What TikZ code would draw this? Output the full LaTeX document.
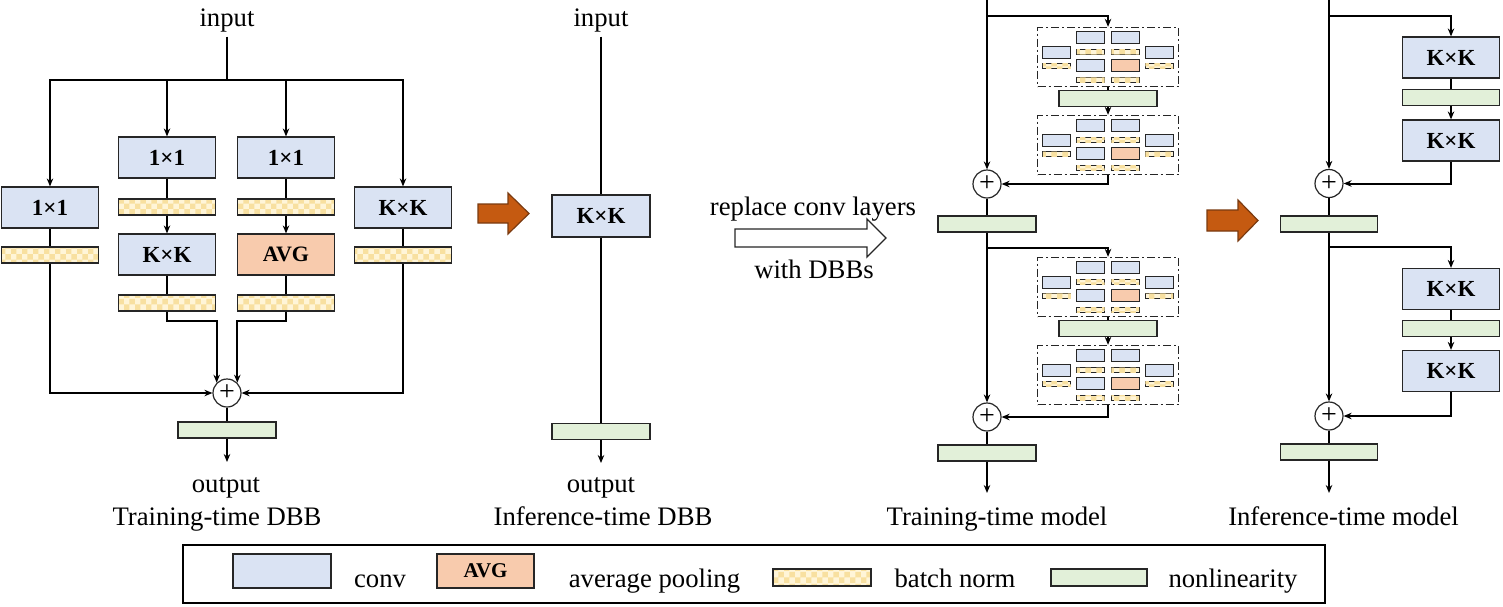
\documentclass[tikz,border=0pt]{standalone}
\usepackage{fontspec}
\setmainfont{Liberation Serif}
\usetikzlibrary{arrows.meta,patterns}
\definecolor{convblue}{HTML}{DAE3F3}
\definecolor{avgorange}{HTML}{F8CBAD}
\definecolor{nlgreen}{HTML}{E2F0D9}
\definecolor{bnbase}{HTML}{FFF5D8}
\definecolor{bncheck}{HTML}{F8E0A0}
\definecolor{arroworange}{HTML}{C55A11}
\definecolor{arrowedge}{HTML}{7A3A10}
\tikzstyle{block} = [draw=black!85, line width=1.2pt, rectangle, inner sep=0pt]
\tikzstyle{conv} = [block, fill=convblue, minimum width=97, minimum height=41,
    font=\bfseries\fontsize{23}{23}\selectfont]
\tikzstyle{avg} = [conv, fill=avgorange, font=\bfseries\fontsize{22}{22}\selectfont]
\tikzstyle{bn} = [block, fill=bnbase, minimum width=97, minimum height=16,
    postaction={pattern=checkerboard, pattern color=bncheck},
    postaction={draw=black!85, line width=1.2pt}]
\tikzstyle{nonlin} = [block, fill=nlgreen, minimum width=98, minimum height=16]
\tikzstyle{adder} = [draw=black!85, line width=1.2pt, circle, fill=white,
    minimum size=28, inner sep=0pt, font=\fontsize{28}{28}\selectfont]
\tikzstyle{dbbbox} = [draw=black!85, line width=1.4pt, rectangle, inner sep=0pt,
    dash pattern=on 8pt off 3pt on 2pt off 3pt, minimum width=141, minimum height=59]
\tikzstyle{txt} = [font=\fontsize{26.7}{30}\selectfont, anchor=base, inner sep=4pt]
\tikzstyle{turnarrow} = [fill=arroworange, draw=arrowedge, line width=1.2pt]
\tikzstyle{hollowarrow} = [fill=white, draw=black!85, line width=1.3pt]
\tikzstyle{legendframe} = [draw=black, line width=1.8pt, rectangle,
    minimum width=1142, minimum height=58]
\tikzstyle{miniconv} = [draw=black!85, line width=1pt, fill=convblue]
\tikzstyle{miniavg} = [miniconv, fill=avgorange]
\tikzstyle{minibn} = [draw=black!85, line width=1pt, fill=bnbase,
    postaction={pattern=checkerboard, pattern color=bncheck}]

\newcommand{\minidbb}[2]{%
    \begin{scope}[shift={(#1,#2)}, scale=0.29]
        \draw[miniconv] (-224.5,-37) rectangle (-128.5,4);
        \draw[minibn] (-224.5,23) rectangle (-128.5,39);
        \draw[miniconv] (-107.5,-87) rectangle (-11.5,-46);
        \draw[minibn] (-107.5,-25) rectangle (-11.5,-9);
        \draw[miniconv] (-107.5,10) rectangle (-11.5,51);
        \draw[minibn] (-107.5,71) rectangle (-11.5,87);
        \draw[miniconv] (11.5,-87) rectangle (107.5,-46);
        \draw[minibn] (11.5,-25) rectangle (107.5,-9);
        \draw[miniavg] (11.5,10) rectangle (107.5,51);
        \draw[minibn] (11.5,71) rectangle (107.5,87);
        \draw[miniconv] (128.5,-37) rectangle (224.5,4);
        \draw[minibn] (128.5,23) rectangle (224.5,39);
    \end{scope}}

\begin{document}
\begin{tikzpicture}[x=1pt, y=-1pt, line width=2pt,
    >={Stealth[length=8pt, width=6.5pt]}]
    \useasboundingbox (0,0) rectangle (1503,606);

    \node[txt] (in1) at (227,26) {input};
    \coordinate (split0) at (227,80);
    \node[conv] (convA) at (50,207.5) {1×1};
    \node[bn] (bnA) at (50,255) {};
    \node[conv] (convB1) at (167,157.5) {1×1};
    \node[bn] (bnB1) at (167,207) {};
    \node[conv] (convB2) at (167,254.5) {K×K};
    \node[bn] (bnB2) at (167,303) {};
    \node[conv] (convC1) at (286,157.5) {1×1};
    \node[bn] (bnC1) at (286,207) {};
    \node[avg] (avgC) at (286,254.5) {AVG};
    \node[bn] (bnC2) at (286,303) {};
    \node[conv] (convD) at (403,207.5) {K×K};
    \node[bn] (bnD) at (403,255) {};
    \node[adder] (plus0) at (227,393) {+};
    \node[nonlin] (nl0) at (227,430) {};
    \coordinate (end0) at (227,462);
    \node[txt] (out1) at (226,492) {output};
    \node[txt] (cap1) at (217,525) {Training-time DBB};

    \draw (in1) -- (split0);
    \draw[->] (split0) -| (convA);
    \draw[->] (split0) -| (convB1);
    \draw[->] (split0) -| (convC1);
    \draw[->] (split0) -| (convD);
    \draw (convA) -- (bnA);
    \draw[->] (bnA) |- (plus0);
    \draw (convB1) -- (bnB1);
    \draw[->] (bnB1) -- (convB2);
    \draw (convB2) -- (bnB2);
    \draw[->] (bnB2) -- ++(0,18) -| (plus0.135);
    \draw (convC1) -- (bnC1);
    \draw[->] (bnC1) -- (avgC);
    \draw (avgC) -- (bnC2);
    \draw[->] (bnC2) -- ++(0,18) -| (plus0.45);
    \draw (convD) -- (bnD);
    \draw[->] (bnD) |- (plus0);
    \draw (plus0) -- (nl0);
    \draw[->] (nl0) -- (end0);

    \draw[turnarrow] (478,204) -- (508,204) -- (508,193) -- (529,213.5)
        -- (508,234) -- (508,223) -- (478,223) -- cycle;

    \node[txt] (in2) at (601,26) {input};
    \node[conv, minimum width=98, minimum height=42] (kk0) at (601,216) {K×K};
    \node[nonlin] (nl1) at (601,431.5) {};
    \coordinate (end1) at (601,463);
    \node[txt] (out2) at (601,492) {output};
    \node[txt] (cap2) at (603,525) {Inference-time DBB};
    \draw (in2) -- (kk0);
    \draw (kk0) -- (nl1);
    \draw[->] (nl1) -- (end1);

    \node[txt] (repl) at (813,215) {replace conv layers};
    \draw[hollowarrow] (735,229) -- (867,229) -- (867,219) -- (886,238)
        -- (867,257) -- (867,247) -- (735,247) -- cycle;
    \node[txt] (with) at (814,278) {with DBBs};

    \coordinate (top1) at (987,0);
    \coordinate (split1) at (987,16);
    \node[dbbbox] (dbb1) at (1108,57) {};
    \node[nonlin] (nlA) at (1108,98.5) {};
    \node[dbbbox] (dbb2) at (1108,145) {};
    \node[adder] (plus1) at (987,184) {+};
    \node[nonlin] (nlC) at (987,224) {};
    \coordinate (split2) at (987,248);
    \node[dbbbox] (dbb3) at (1108,287) {};
    \node[nonlin] (nlB) at (1108,328.5) {};
    \node[dbbbox] (dbb4) at (1108,375) {};
    \node[adder] (plus2) at (987,417) {+};
    \node[nonlin] (nlD) at (987,453) {};
    \coordinate (end2) at (987,493);
    \node[txt] (cap3) at (997,525) {Training-time model};
    \minidbb{1108}{57}
    \minidbb{1108}{145}
    \minidbb{1108}{287}
    \minidbb{1108}{375}

    \draw[->] (top1) -- (plus1);
    \draw[->] (split1) -| (dbb1);
    \draw (dbb1) -- (nlA);
    \draw[->] (nlA) -- (dbb2);
    \draw[->] (dbb2) |- (plus1);
    \draw (plus1) -- (nlC);
    \draw[->] (nlC) -- (plus2);
    \draw[->] (split2) -| (dbb3);
    \draw (dbb3) -- (nlB);
    \draw[->] (nlB) -- (dbb4);
    \draw[->] (dbb4) |- (plus2);
    \draw (plus2) -- (nlD);
    \draw[->] (nlD) -- (end2);

    \draw[turnarrow] (1207,210) -- (1238,210) -- (1238,200) -- (1258,220.5)
        -- (1238,241) -- (1238,231) -- (1207,231) -- cycle;

    \coordinate (top2) at (1329,0);
    \coordinate (split3) at (1329,16);
    \node[conv] (kk1) at (1451,57.5) {K×K};
    \node[nonlin, minimum width=97] (nl2) at (1451,97.5) {};
    \node[conv] (kk2) at (1451,140.5) {K×K};
    \node[adder] (plus3) at (1329,183.5) {+};
    \node[nonlin, minimum width=97] (nl3) at (1329,224) {};
    \coordinate (split4) at (1329,247);
    \node[conv] (kk3) at (1451,289) {K×K};
    \node[nonlin, minimum width=97] (nl4) at (1451,328.5) {};
    \node[conv] (kk4) at (1451,371) {K×K};
    \node[adder] (plus4) at (1329,416) {+};
    \node[nonlin, minimum width=97] (nl5) at (1329,452) {};
    \coordinate (end3) at (1329,493);
    \node[txt] (cap4) at (1343.5,525) {Inference-time model};

    \draw[->] (top2) -- (plus3);
    \draw[->] (split3) -| (kk1);
    \draw (kk1) -- (nl2);
    \draw[->] (nl2) -- (kk2);
    \draw[->] (kk2) |- (plus3);
    \draw (plus3) -- (nl3);
    \draw[->] (nl3) -- (plus4);
    \draw[->] (split4) -| (kk3);
    \draw (kk3) -- (nl4);
    \draw[->] (nl4) -- (kk4);
    \draw[->] (kk4) |- (plus4);
    \draw (plus4) -- (nl5);
    \draw[->] (nl5) -- (end3);

    \node[legendframe] (legend) at (754,574) {};
    \node[conv, minimum width=98, minimum height=34] (keyconv) at (282,571) {};
    \node[txt] (keyconvtxt) at (380,587) {conv};
    \node[avg, minimum width=97, minimum height=34,
        font=\bfseries\fontsize{21}{21}\selectfont] (keyavg) at (485.5,571) {AVG};
    \node[txt] (keyavgtxt) at (654.5,587) {average pooling};
    \node[bn, minimum width=98, minimum height=17] (keybn) at (822,577.5) {};
    \node[txt] (keybntxt) at (955,587) {batch norm};
    \node[nonlin, minimum width=96, minimum height=17] (keynl) at (1099,577.5) {};
    \node[txt] (keynltxt) at (1233,587) {nonlinearity};
\end{tikzpicture}
\end{document}
